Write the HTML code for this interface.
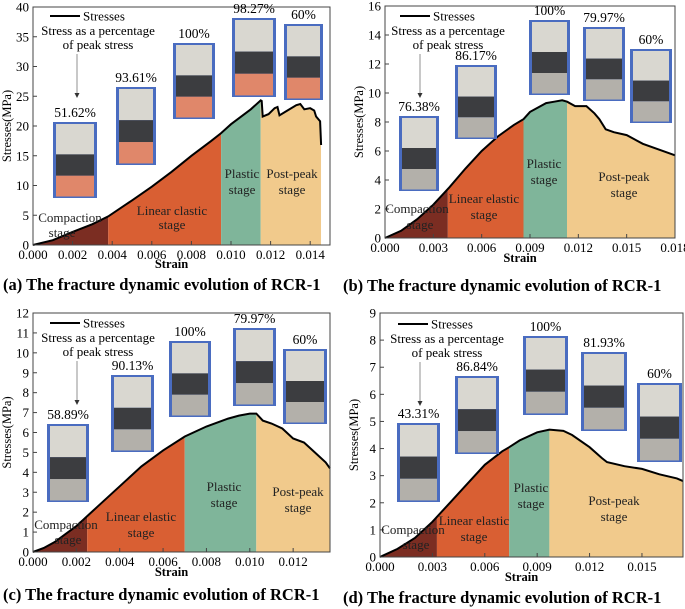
<!DOCTYPE html>
<html><head><meta charset="utf-8"><style>
body{margin:0;background:#fff}
svg{display:block;font-family:"Liberation Serif",serif}
</style></head><body>
<svg id="fig" width="685" height="609" viewBox="0 0 685 609"></svg>
<script>
// Panel (a)
const strainA=[0,0.001,0.002,0.003,0.0038,0.005,0.006,0.007,0.008,0.009,0.0095,0.010,0.011,0.0115,0.01155,0.0116,0.0119,0.0122,0.01235,0.01245,0.0128,0.0133,0.0135,0.0137,0.0140,0.0142,0.0143,0.0145,0.01455];
const stressA=[0,0.8,2.2,3.5,4.8,7.5,9.8,12.3,15,17.5,18.8,20.3,22.8,24.3,24.2,21.6,22,23,23.2,21.8,22.5,23.5,23.7,22.8,23,22.6,21.6,20.8,16.8];
const stagesA=[0,0.0038,0.0095,0.0115,0.01455];
const pctA=["51.62%","93.61%","100%","98.27%","60%"];
// Panel (b)
const strainB=[0,0.001,0.002,0.003,0.004,0.005,0.006,0.007,0.008,0.0086,0.009,0.010,0.0105,0.011,0.0113,0.0118,0.0125,0.013,0.0133,0.0137,0.0142,0.015,0.016,0.017,0.018];
const stressB=[0,0.5,1.3,2.3,3.5,4.8,6,7,7.8,8.2,8.7,9.3,9.4,9.5,9.4,9.1,9.1,8.6,8.2,7.5,7.3,7.1,6.5,6.1,5.7];
const stagesB=[0,0.0039,0.0086,0.0113,0.018];
const pctB=["76.38%","86.17%","100%","79.97%","60%"];
// Panel (c)
const strainC=[0,0.0005,0.001,0.0015,0.002,0.0025,0.003,0.004,0.005,0.006,0.007,0.008,0.009,0.0095,0.010,0.0103,0.0106,0.011,0.0115,0.0118,0.012,0.0125,0.013,0.0135,0.0137];
const stressC=[0,0.2,0.5,0.9,1.3,1.8,2.3,3.3,4.3,5.1,5.8,6.3,6.7,6.85,6.95,6.95,6.6,6.45,6.2,5.9,5.7,5.5,5.0,4.5,4.2];
const stagesC=[0,0.0025,0.0070,0.0103,0.0137];
const pctC=["58.89%","90.13%","100%","79.97%","60%"];
// Panel (d)
const strainD=[0,0.001,0.002,0.003,0.004,0.005,0.006,0.007,0.0074,0.008,0.009,0.0097,0.0105,0.011,0.012,0.0127,0.013,0.014,0.015,0.016,0.017,0.01735];
const stressD=[0,0.3,0.7,1.3,2.0,2.7,3.4,3.9,4.05,4.3,4.6,4.7,4.65,4.5,4.05,3.65,3.5,3.35,3.25,3.05,2.9,2.8];
const stagesD=[0,0.00326,0.0074,0.0097,0.01735];
const pctD=["43.31%","86.84%","100%","81.93%","60%"];

const NS="http://www.w3.org/2000/svg";
const fig=document.getElementById('fig');
function mk(tag,attrs,parent,text){const e=document.createElementNS(NS,tag);for(const k in attrs)e.setAttribute(k,attrs[k]);if(text!==undefined)e.textContent=text;(parent||fig).appendChild(e);return e;}
const stageColors=["#7b2d22","#d95f33","#7fb59a","#f1ca8c"];
const stageNames=["compaction","linear-elastic","plastic","post-peak"];

const panels=[
 {id:"a",strain:strainA,stress:stressA,stages:stagesA,pct:pctA,L:33,R:330,T:7,B:245,xmax:0.0150,ymax:40,ystep:5,xstep:0.002,xn:7,
  photos:[[53,122,44,76,"s"],[116,87,40,78,"s"],[173,43,42,76,"s"],[232,18,44,79,"s"],[284,24,39,76,"s"]],
  stl:[[70,222,62,237],[172,215,172,229],[242,178,242,194],[292,178,292,194]],strainY:268,capY:290,leg:[50,16,98,77]},
 {id:"b",strain:strainB,stress:stressB,stages:stagesB,pct:pctB,L:385,R:675,T:6,B:238,xmax:0.0180,ymax:16,ystep:2,xstep:0.003,xn:6,
  photos:[[399,116,40,75,"g"],[455,65,42,74,"g"],[529,20,41,75,"g"],[583,27,42,74,"g"],[630,49,42,74,"g"]],
  stl:[[417,213,420,229],[484,203,484,219],[544,168,544,184],[624,181,624,197]],strainY:262,capY:291,leg:[400,16,448,420]},
 {id:"c",strain:strainC,stress:stressC,stages:stagesC,pct:pctC,L:33,R:330,T:313,B:552,xmax:0.0137,ymax:12,ystep:1,xstep:0.002,xn:6,
  photos:[[47,424,42,78,"g"],[111,375,43,77,"g"],[169,341,42,76,"g"],[233,328,43,78,"g"],[283,349,44,75,"g"]],
  stl:[[66,529,68,544],[141,521,141,537],[224,491,224,507],[298,496,298,512]],strainY:576,capY:600,leg:[50,323,98,77]},
 {id:"d",strain:strainD,stress:stressD,stages:stagesD,pct:pctD,L:380,R:683,T:313,B:557,xmax:0.01735,ymax:9,ystep:1,xstep:0.003,xn:5,
  photos:[[397,423,43,79,"g"],[455,376,44,78,"g"],[523,336,45,79,"g"],[581,352,46,79,"g"],[637,383,45,79,"g"]],
  stl:[[413,534,416,549],[474,525,474,541],[531,492,531,508],[614,505,614,521]],strainY:581,capY:603,leg:[398,324,447,420]}
];

const defs=mk('defs',{});
panels.forEach(p=>{
  const g=mk('g',{});
  
  
  const xs=v=>p.L+v/p.xmax*(p.R-p.L);
  const ys=v=>p.B-v/p.ymax*(p.B-p.T);
  let line="";p.strain.forEach((s,i)=>{line+=(i?"L":"M")+xs(s).toFixed(1)+","+ys(p.stress[i]).toFixed(1);});
  const last=p.strain[p.strain.length-1];
  const area=line+"L"+xs(last).toFixed(1)+","+p.B+"L"+xs(0)+","+p.B+"Z";
  for(let k=0;k<4;k++){
    const cid='clip'+p.id+k;
    const cp=mk('clipPath',{id:cid},defs);
    mk('rect',{x:xs(p.stages[k]),y:p.T,width:xs(p.stages[k+1])-xs(p.stages[k]),height:p.B-p.T},cp);
    const a=mk('path',{d:area,fill:stageColors[k],'clip-path':'url(#'+cid+')'},g);
    
    
  }
  const cur=mk('path',{d:line,fill:"none",stroke:"#000","stroke-width":2},g);
  
  
  const fr=mk('rect',{x:p.L,y:p.T,width:p.R-p.L,height:p.B-p.T,fill:"none",stroke:"#444","stroke-width":1},g);
  
  
  for(let v=0;v<=p.ymax+1e-9;v+=p.ystep){
    mk('line',{x1:p.L,x2:p.L+4,y1:ys(v),y2:ys(v),stroke:"#444"},g);
    const t=mk('text',{x:p.L-4,y:ys(v)+4.5,"text-anchor":"end","font-size":13},g,String(v));
    
    
  }
  for(let i=0;i<=p.xn;i++){
    const v=i*p.xstep;
    mk('line',{x1:xs(v),x2:xs(v),y1:p.B,y2:p.B-4,stroke:"#444"},g);
    const t=mk('text',{x:xs(v),y:p.B+14,"text-anchor":"middle","font-size":13},g,v.toFixed(3));
    
    
  }
  const xt=mk('text',{x:(p.L+p.R)/2-10,y:p.strainY,"text-anchor":"middle","font-size":12.5,"font-weight":"bold"},g,"Strain");
  
  
  const yx=p.L-22,yc=(p.T+p.B)/2;
  const yt=mk('text',{x:yx,y:yc,"text-anchor":"middle","font-size":12.5,transform:"rotate(-90 "+yx+" "+yc+")"},g,"Stresses(MPa)");
  
  
  const names=[["Compaction","stage"],["Linear clastic","stage"],["Plastic","stage"],["Post-peak","stage"]];
  if(p.id!=="a")names[1][0]="Linear elastic";
  p.stl.forEach((s,k)=>{
    const t=mk('text',{x:s[0],y:s[1],"text-anchor":"middle","font-size":13,fill:"#222"},g,names[k][0]);
    
    
    mk('text',{x:s[2],y:s[3],"text-anchor":"middle","font-size":13,fill:"#222"},g,names[k][1]);
  });
  p.photos.forEach((ph,k)=>{
    const [x,y,w,h,type]=ph;
    const pg=mk('g',{},g);
    
    
    mk('rect',{x:x,y:y,width:w,height:h,fill:"#4a6cc0"},pg);
    mk('rect',{x:x+3,y:y+2,width:w-6,height:h*0.40,fill:"#d9d7d0"},pg);
    mk('rect',{x:x+3,y:y+2+h*0.40,width:w-6,height:h*0.28,fill:"#3c3d40"},pg);
    mk('rect',{x:x+3,y:y+2+h*0.68,width:w-6,height:h*0.30-2,fill:type==="s"?"#e0876a":"#b3b0aa"},pg);
    const t=mk('text',{x:x+w/2,y:y-5,"text-anchor":"middle","font-size":13.5},g,p.pct[k]);
    
    
  });
  const [lx,ly,cx,ax]=p.leg;
  const lg=mk('g',{},g);
  
  
  mk('line',{x1:lx,x2:lx+30,y1:ly,y2:ly,stroke:"#000","stroke-width":2},lg);
  mk('text',{x:lx+33,y:ly+4.5,"font-size":13},lg,"Stresses");
  mk('text',{x:cx,y:ly+19,"text-anchor":"middle","font-size":13},lg,"Stress as a percentage");
  mk('text',{x:cx,y:ly+33,"text-anchor":"middle","font-size":13},lg,"of peak stress");
  mk('line',{x1:ax,x2:ax,y1:ly+38,y2:ly+80,stroke:"#777","stroke-width":0.8},lg);
  mk('path',{d:"M"+(ax-2.5)+","+(ly+77)+"L"+(ax+2.5)+","+(ly+77)+"L"+ax+","+(ly+82)+"Z",fill:"#333"},lg);
  const cap=mk('text',{x:(p.id==="a"||p.id==="c")?3:343,y:p.capY,"font-size":16.5,"font-weight":"bold"},g,"("+p.id+")  The fracture dynamic evolution of RCR-1");
  
  
});
</script>
</body></html>
